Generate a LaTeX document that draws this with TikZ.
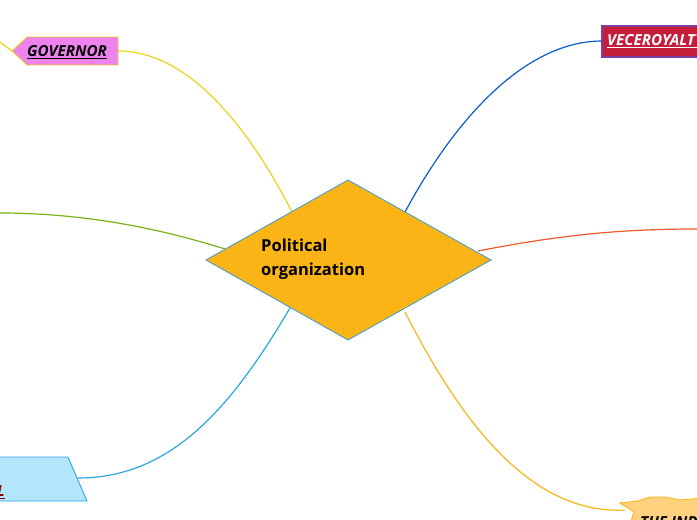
\documentclass[tikz,border=0pt]{standalone}
\usepackage{fontspec}
\setmainfont{Open Sans}
\begin{document}
\begin{tikzpicture}[x=1pt,y=-1pt,
  lbl/.style={font=\bfseries\itshape\fontsize{15.2}{17}\selectfont,inner sep=0pt},
  conn/.style={line width=1.2pt}]
\useasboundingbox (0,0) rectangle (697,520);
\definecolor{dfill}{HTML}{FBB415}\definecolor{dline}{HTML}{3A9AD9}
\definecolor{gfill}{HTML}{EE82EE}\definecolor{gline}{HTML}{E8D418}
\definecolor{vfill}{HTML}{C41E3A}\definecolor{vline}{HTML}{7B3F9E}
\definecolor{cfill}{HTML}{B3E5FC}\definecolor{cline}{HTML}{29A8E0}
\definecolor{sfill}{HTML}{FFD27F}\definecolor{sline}{HTML}{FBB415}
\definecolor{bl}{HTML}{0A5BD0}\definecolor{gr}{HTML}{7AB317}\definecolor{rd}{HTML}{F05A28}
% connectors
\coordinate (g) at (118,51); \coordinate (dg) at (292,212);
\coordinate (v) at (602,41); \coordinate (dv) at (405,212);
\coordinate (gl) at (0,213); \coordinate (dgl) at (225,249);
\coordinate (rl) at (697,229); \coordinate (drl) at (478,251);
\coordinate (c) at (78,478); \coordinate (dc) at (290,308);
\coordinate (s) at (625,510); \coordinate (ds) at (405,312);
\draw[conn,gline] (g) .. controls (190,51) and (250,130) .. (dg);
\draw[conn,gline] (12,51) -- (0,42);
\draw[conn,bl] (v) .. controls (530,41) and (460,110) .. (dv);
\draw[conn,gr] (gl) .. controls (100,213) and (180,235) .. (dgl);
\draw[conn,rd] (drl) .. controls (560,235) and (620,229) .. (rl);
\draw[conn,cline] (dc) .. controls (230,410) and (170,478) .. (c);
\draw[conn,sline] (ds) .. controls (460,420) and (530,515) .. (s);
% diamond
\draw[dline,fill=dfill,line width=0.8pt] (348,180) -- (491,260) -- (348,340) -- (206,260) -- cycle;
\node[font=\bfseries\fontsize{16.5}{24}\selectfont,align=left,anchor=north west,inner sep=0pt] (d) at (261,239) {Political\\organization};
% governor
\draw[gline,fill=gfill,line width=0.9pt] (12,51) -- (27,37) -- (118,37) -- (118,65) -- (27,65) -- cycle;
\node[lbl] (gov) at (67,52) {\underline{GOVERNOR}};
% veceroyal
\draw[vline,fill=vfill,line width=1.2pt] (602,26) rectangle (705,57);
\node[lbl,white,anchor=west] (vec) at (607,41) {\underline{VECEROYALTY}};
% cyan parallelogram
\draw[cline,fill=cfill,line width=0.9pt] (-5,457) -- (68,457) -- (87,501) -- (-5,501) -- cycle;
\node[lbl,red!50!black,anchor=east] (cl) at (5,492) {\underline{AL}};
% star
\draw[sline,fill=sfill,line width=0.9pt] (620,503) -- (638,501) -- (650,497) -- (665,497) -- (680,500) -- (705,498) -- (705,525) -- (630,525) -- (634,512) -- cycle;
\node[lbl,anchor=west] (ind) at (640,522) {THE INDIAN};
\end{tikzpicture}
\end{document}
